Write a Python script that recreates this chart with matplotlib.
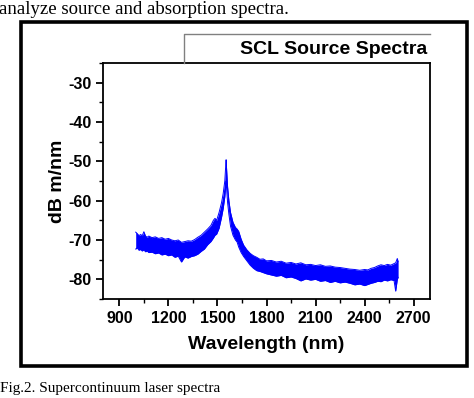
import matplotlib
matplotlib.use("Agg")
import matplotlib.pyplot as plt
from matplotlib.patches import Rectangle
from matplotlib.lines import Line2D
from matplotlib.ticker import MultipleLocator

plt.rcParams["axes.unicode_minus"] = False

# spectrum envelope (wavelength nm, upper / lower dB m/nm)
wavelength = [1000, 1010, 1020, 1030, 1040, 1050, 1060, 1070, 1080, 1100,
              1120, 1140, 1160, 1180, 1200, 1220, 1240, 1260, 1280, 1300,
              1320, 1340, 1360, 1380, 1400, 1420, 1440, 1460, 1475, 1485,
              1495, 1510, 1525, 1535, 1545, 1550, 1553, 1556, 1562, 1570,
              1580, 1595, 1610, 1620, 1630, 1645, 1660, 1680, 1700, 1720,
              1740, 1760, 1780, 1800, 1830, 1860, 1890, 1920, 1950, 1980,
              2010, 2040, 2070, 2100, 2130, 2160, 2190, 2220, 2250, 2280,
              2310, 2340, 2370, 2400, 2420, 2440, 2460, 2480, 2500, 2520,
              2540, 2560, 2580, 2590, 2600, 2605]
upper = [-68.0, -68.4, -68.9, -68.6, -68.9, -67.9, -69.0, -69.3, -69.0, -69.4,
         -69.2, -69.6, -69.4, -69.8, -69.6, -70.0, -70.2, -70.0, -70.6, -70.4,
         -70.2, -70.3, -69.9, -69.3, -68.8, -68.0, -67.2, -66.3, -65.0, -64.5,
         -65.0, -63.0, -60.5, -58.2, -55.0, -51.5, -49.6, -52.0, -56.5, -60.0,
         -63.0, -65.5, -66.8, -67.2, -67.8, -69.8, -71.3, -72.5, -73.4, -74.0,
         -74.4, -74.9, -74.8, -75.3, -75.2, -75.6, -75.4, -75.9, -75.7, -76.1,
         -75.8, -76.3, -76.2, -76.5, -76.3, -76.7, -76.6, -76.9, -77.0, -77.2,
         -77.4, -77.5, -77.7, -77.5, -77.6, -77.2, -77.0, -76.6, -76.3, -76.5,
         -76.2, -76.4, -76.0, -75.8, -74.7, -75.5]
lower = [-72.3, -72.0, -72.6, -72.4, -72.8, -72.5, -73.0, -72.8, -73.2, -73.1,
         -73.5, -73.3, -73.8, -73.6, -74.0, -73.8, -74.4, -74.1, -75.6, -74.3,
         -74.6, -74.2, -74.0, -73.6, -72.9, -72.3, -71.2, -70.4, -69.5, -68.8,
         -68.5, -67.0, -64.2, -62.0, -59.0, -56.5, -55.0, -57.0, -60.5, -63.5,
         -66.5, -68.8, -70.0, -70.5, -71.8, -73.2, -74.2, -75.3, -76.4, -77.2,
         -77.8, -78.0, -78.3, -78.6, -78.9, -79.2, -79.0, -79.6, -79.4, -79.8,
         -80.4, -79.9, -80.2, -80.0, -80.5, -80.3, -80.8, -80.5, -80.9, -80.7,
         -81.0, -81.4, -81.2, -81.6, -81.3, -81.0, -80.8, -80.5, -80.6, -80.2,
         -80.4, -80.1, -80.3, -83.0, -80.0, -79.5]

x_ticks = [900, 1200, 1500, 1800, 2100, 2400, 2700]
y_ticks = [-80, -70, -60, -50, -40, -30]

W, H = 474, 398
fig = plt.figure(figsize=(W / 100, H / 100), dpi=100)
fig.patch.set_facecolor("white")

def fx(px):
    return px / W

def fy(py):
    return 1 - py / H

sans = ["Liberation Sans", "DejaVu Sans"]
serif = ["Liberation Serif", "DejaVu Serif"]

# page text around the figure
fig.text(fx(-1), fy(14), "analyze source and absorption spectra.", family=serif,
         fontsize=13.5, va="baseline", ha="left")
fig.text(fx(0), fy(392), "Fig.2. Supercontinuum laser spectra", family=serif,
         fontsize=11, va="baseline", ha="left")

# outer frame
fig.add_artist(Rectangle((fx(21), fy(366)), fx(467) - fx(21), fy(22) - fy(366),
                         transform=fig.transFigure, fill=False, lw=2.6,
                         edgecolor="black"))

# title box
fig.add_artist(Line2D([fx(184), fx(184), fx(430)], [fy(63), fy(34), fy(34)],
                      transform=fig.transFigure, color="#808080", lw=1.0))
fig.text(fx(427), fy(49), "SCL Source Spectra", family=sans, fontweight="bold",
         fontsize=14, ha="right", va="center")

ax = fig.add_axes([fx(103), fy(299), fx(430) - fx(103), fy(63) - fy(299)])
ax.fill_between(wavelength, lower, upper, color="#0000ff", lw=0)
ax.plot(wavelength, upper, color="#0000ff", lw=0.7)
ax.plot(wavelength, lower, color="#0000ff", lw=0.7)

ax.set_xlim(800, 2800)
ax.set_ylim(-85, -25)
ax.set_xticks(x_ticks)
ax.set_yticks(y_ticks)
ax.xaxis.set_minor_locator(MultipleLocator(150))
ax.yaxis.set_minor_locator(MultipleLocator(5))
ax.tick_params(which="major", direction="out", length=5, width=1.3)
ax.tick_params(which="minor", direction="out", length=3, width=1.0)
for s in ax.spines.values():
    s.set_linewidth(1.3)
for lab in ax.get_xticklabels() + ax.get_yticklabels():
    lab.set_family(sans)
    lab.set_fontweight("bold")
    lab.set_fontsize(11.5)

ax.set_xlabel("Wavelength (nm)", family=sans, fontweight="bold", fontsize=14,
              labelpad=7)
ax.set_ylabel("dB m/nm", family=sans, fontweight="bold", fontsize=14,
              labelpad=1.5)

fig.savefig("out.png", dpi=100)
